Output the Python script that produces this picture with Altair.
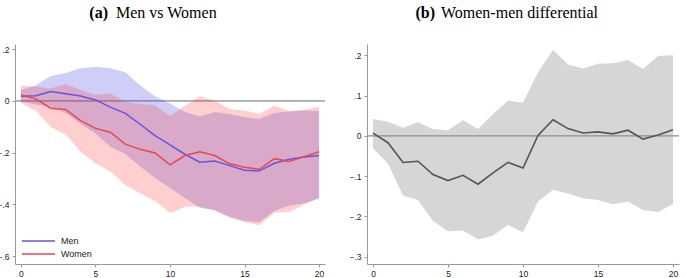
import altair as alt
import pandas as pd

horizon = list(range(21))

men_mean = [0.018, 0.020, 0.036, 0.028, 0.019, 0.004, -0.024, -0.048, -0.090, -0.134, -0.170,
            -0.206, -0.237, -0.232, -0.250, -0.268, -0.270, -0.241, -0.225, -0.217, -0.211]
men_hi = [0.042, 0.061, 0.096, 0.108, 0.126, 0.132, 0.126, 0.111, 0.060, 0.018, -0.010,
          -0.043, -0.060, -0.043, -0.050, -0.062, -0.069, -0.047, -0.041, -0.037, -0.040]
men_lo = [-0.003, -0.014, -0.022, -0.047, -0.088, -0.126, -0.177, -0.205, -0.253, -0.298, -0.336,
          -0.375, -0.413, -0.422, -0.447, -0.464, -0.468, -0.425, -0.404, -0.396, -0.378]

women_mean = [0.023, 0.008, -0.028, -0.033, -0.076, -0.106, -0.121, -0.167, -0.187, -0.201, -0.247,
              -0.211, -0.196, -0.211, -0.243, -0.256, -0.264, -0.223, -0.234, -0.215, -0.196]
women_hi = [0.059, 0.056, 0.048, 0.065, 0.042, 0.024, 0.029, -0.004, -0.011, -0.017, -0.058,
            -0.020, 0.018, 0.001, -0.031, -0.037, -0.050, -0.019, -0.039, -0.034, -0.022]
women_lo = [-0.008, -0.038, -0.101, -0.130, -0.196, -0.241, -0.273, -0.325, -0.358, -0.387, -0.433,
            -0.409, -0.409, -0.422, -0.451, -0.468, -0.480, -0.432, -0.429, -0.400, -0.372]

diff_mean = [0.007, -0.017, -0.066, -0.063, -0.096, -0.111, -0.098, -0.120, -0.092, -0.066, -0.080,
             0.001, 0.040, 0.018, 0.007, 0.010, 0.005, 0.014, -0.008, 0.002, 0.015]
diff_hi = [0.042, 0.035, 0.020, 0.034, 0.017, 0.014, 0.039, 0.017, 0.054, 0.087, 0.082,
           0.157, 0.213, 0.177, 0.167, 0.179, 0.180, 0.188, 0.166, 0.198, 0.200]
diff_lo = [-0.030, -0.069, -0.148, -0.159, -0.211, -0.237, -0.235, -0.257, -0.247, -0.221, -0.239,
           -0.163, -0.134, -0.143, -0.155, -0.159, -0.170, -0.163, -0.184, -0.189, -0.169]

groups = ["Men", "Women"]
group_colors_line = ["#6a52e0", "#e8474f"]
group_colors_fill = ["#3434e0", "#ff3838"]

rows = []
for g, m, lo, hi in [("Men", men_mean, men_lo, men_hi), ("Women", women_mean, women_lo, women_hi)]:
    for h, a, b, c in zip(horizon, m, lo, hi):
        rows.append({"h": h, "group": g, "mean": a, "lo": b, "hi": c})
df_a = pd.DataFrame(rows)
df_b = pd.DataFrame({"h": horizon, "mean": diff_mean, "lo": diff_lo, "hi": diff_hi})
df_leg = pd.DataFrame({"group": groups})

label_expr = "datum.value == 0 ? '0' : replace(format(datum.value, '.1f'), '0.', '.')"

xdom = [-0.4, 20.4]
x_axis = alt.Axis(values=[0, 5, 10, 15, 20], title=None, grid=False, tickSize=3,
                  labelPadding=2, labelFontSize=8.5, labelFont="Liberation Sans",
                  labelColor="#222", domainColor="#999", tickColor="#999")


def y_axis(vals):
    return alt.Axis(values=vals, title=None, grid=False, tickSize=3, labelPadding=3,
                    labelFontSize=8.5, labelFont="Liberation Sans", labelColor="#222",
                    domainColor="#999", tickColor="#999", labelExpr=label_expr)


H = 220
line_scale = alt.Scale(domain=groups, range=group_colors_line)

# ---- Panel (a)
ya = alt.Scale(domain=[-0.63, 0.22], nice=False, zero=False)
xa = alt.Scale(domain=xdom, nice=False, zero=False)
base_a = alt.Chart(df_a)

rule_a = alt.Chart(pd.DataFrame({"z": [0]})).mark_rule(color="#aaaaaa", strokeWidth=1.8).encode(
    y=alt.Y("z:Q", scale=ya, axis=y_axis([-0.6, -0.4, -0.2, 0, 0.2]))
)
areas_a = base_a.mark_area(opacity=0.24).encode(
    x=alt.X("h:Q", scale=xa, axis=x_axis),
    y=alt.Y("lo:Q", scale=ya),
    y2="hi:Q",
    fill=alt.Fill("group:N", scale=alt.Scale(domain=groups, range=group_colors_fill), legend=None),
    order=alt.Order("group:N"),
)
lines_a = base_a.mark_line(strokeWidth=1.5).encode(
    x=alt.X("h:Q", scale=xa),
    y=alt.Y("mean:Q", scale=ya),
    stroke=alt.Stroke("group:N", scale=line_scale, legend=None),
)
main_a = alt.layer(rule_a, areas_a, lines_a)

# legend built from the group list (row order = list order)
leg_base = alt.Chart(df_leg).transform_window(row="row_number()")
leg_y = alt.Y("row:Q", scale=alt.Scale(domain=[1, 2], range=[197, 210], nice=False, zero=False),
              axis=None)
leg_lines = leg_base.mark_rule(strokeWidth=1.5).encode(
    x=alt.value(7), x2=alt.value(40), y=leg_y,
    stroke=alt.Stroke("group:N", scale=line_scale, legend=None),
)
leg_text = leg_base.mark_text(
    align="left", baseline="middle", font="Liberation Sans", fontSize=9, color="#222"
).encode(x=alt.value(46), y=leg_y, text="group:N")
legend_a = alt.layer(leg_lines, leg_text)

t_a1 = alt.Chart(pd.DataFrame({"t": ["(a)"]})).mark_text(
    font="Liberation Serif", fontSize=16, fontWeight="bold", align="right", baseline="alphabetic"
).encode(text="t:N", x=alt.value(93), y=alt.value(-26))
t_a2 = alt.Chart(pd.DataFrame({"t": ["Men vs Women"]})).mark_text(
    font="Liberation Serif", fontSize=16, align="left", baseline="alphabetic"
).encode(text="t:N", x=alt.value(101), y=alt.value(-26))

panel_a = alt.layer(main_a, legend_a, t_a1, t_a2).resolve_scale(y="independent").properties(
    width=310, height=H
)

# ---- Panel (b)
yb = alt.Scale(domain=[-0.318, 0.228], nice=False, zero=False)
xb = alt.Scale(domain=xdom, nice=False, zero=False)
base_b = alt.Chart(df_b)
area_b = base_b.mark_area(color="#d6d6d6").encode(
    x=alt.X("h:Q", scale=xb, axis=x_axis),
    y=alt.Y("lo:Q", scale=yb, axis=y_axis([-0.3, -0.2, -0.1, 0, 0.1, 0.2])),
    y2="hi:Q",
)
rule_b = alt.Chart(pd.DataFrame({"z": [0]})).mark_rule(color="#8c8c8c", strokeWidth=1.2).encode(
    y=alt.Y("z:Q", scale=yb)
)
line_b = base_b.mark_line(color="#555555", strokeWidth=1.6).encode(
    x=alt.X("h:Q", scale=xb),
    y=alt.Y("mean:Q", scale=yb),
)
t_b1 = alt.Chart(pd.DataFrame({"t": ["(b)"]})).mark_text(
    font="Liberation Serif", fontSize=16, fontWeight="bold", align="right", baseline="alphabetic"
).encode(text="t:N", x=alt.value(68), y=alt.value(-26))
t_b2 = alt.Chart(pd.DataFrame({"t": ["Women-men differential"]})).mark_text(
    font="Liberation Serif", fontSize=16, align="left", baseline="alphabetic"
).encode(text="t:N", x=alt.value(74), y=alt.value(-26))

panel_b = alt.layer(area_b, rule_b, line_b, t_b1, t_b2).properties(width=312, height=H)

chart = alt.hconcat(panel_a, panel_b, spacing=22).resolve_scale(
    x="independent", y="independent"
).configure_view(stroke=None).configure_axisY(minExtent=15, maxExtent=15).properties(
    padding={"left": -4, "top": 5, "right": 0, "bottom": 0},
    background="white",
)

chart.save("out.html", embed_options={"renderer": "svg", "actions": False})
